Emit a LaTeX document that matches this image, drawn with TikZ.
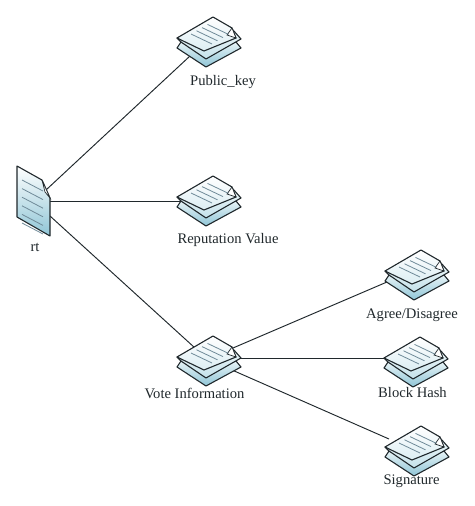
\documentclass[tikz,border=0pt]{standalone}
\usepackage{fontspec}
\setmainfont{Liberation Serif}
\definecolor{inkc}{HTML}{20282C}
\definecolor{pagetop}{HTML}{DCEEF3}
\definecolor{pagebot}{HTML}{8FC5D6}
\definecolor{ruled}{HTML}{6F8A98}
\tikzset{
  x=1pt,y=-1pt,
  link/.style={draw=inkc,line width=0.95pt},
  lab/.style={font=\fontsize{14.6}{16}\selectfont,text=inkc,inner sep=0pt},
  sheet/.style={draw=inkc,line width=1.1pt,line join=round,top color=pagetop,bottom color=pagebot},
  ruling/.style={draw=ruled,line width=0.8pt},
  stack/.pic={
    \path[sheet,top color=pagetop!70!white,bottom color=pagebot] (-28,4)--(-32,10)--(-3,29)--(32,10)--(27,4)--(-3,14)--cycle;
    \path[sheet,top color=pagetop!50!white,bottom color=pagetop!70!pagebot] (-32,0)--(-28,4)--(-3,21)--(32,1)--(24,-8)--(-3,5)--cycle;
    \path[sheet,top color=white,bottom color=pagetop] (-32,0)--(4,-21)--(23,-10)--(27,0)--(-5,13)--cycle;
    \path[draw=inkc,line width=0.7pt,fill=white] (23,-10)--(18,-3)--(27,0)--cycle;
    \foreach \i in {0,1,2,3}{
      \draw[ruling] (-18+\i*5.5,-4-\i*3.2)--(3+\i*5.5,6-\i*3.2);
    }
  },
}
\begin{document}
\begin{tikzpicture}
\useasboundingbox (0,0) rectangle (474,506);
\coordinate (rtA) at (46,190);
\coordinate (rtB) at (50,201.5);
\coordinate (rtC) at (50,216);
\coordinate (pk) at (209,38);
\coordinate (pkIn) at (190,56);
\coordinate (rep) at (209,197);
\coordinate (repIn) at (180,201.5);
\coordinate (vote) at (209,357);
\coordinate (voteIn) at (195,348);
\coordinate (voteA) at (233,348);
\coordinate (voteB) at (238,358.5);
\coordinate (voteC) at (232,370);
\coordinate (agree) at (417,271);
\coordinate (agreeIn) at (387,282);
\coordinate (hash) at (416,358);
\coordinate (hashIn) at (387,358.5);
\coordinate (sig) at (417,447);
\coordinate (sigIn) at (389,439);
\draw[link] (rtA) -- (pkIn);
\draw[link] (rtB) -- (repIn);
\draw[link] (rtC) -- (voteIn);
\draw[link] (voteA) -- (agreeIn);
\draw[link] (voteB) -- (hashIn);
\draw[link] (voteC) -- (sigIn);
\path[sheet,top color=white,bottom color=pagebot] (17,166)--(42,180)--(50,198)--(50,236)--(17,217)--cycle;
\path[draw=inkc,line width=0.7pt,fill=white] (42,180)--(45,192)--(50,198)--cycle;
\foreach \i in {0,1,2,3,4,5}{\draw[ruling] (22,\i*8.6+180)--(43,\i*8.6+191);}
\pic at (pk) {stack};
\pic at (rep) {stack};
\pic at (vote) {stack};
\pic at (agree) {stack};
\pic at (hash) {stack};
\pic at (sig) {stack};
\node[lab] (lrt) at (35,247) {rt};
\node[lab] (lpk) at (223,82) {Public\_key};
\node[lab] (lrep) at (228,240) {Reputation Value};
\node[lab] (lvote) at (194.5,393) {Vote Information};
\node[lab] (lagree) at (412,315) {Agree/Disagree};
\node[lab] (lhash) at (412.5,393) {Block Hash};
\node[lab] (lsig) at (411.5,481) {Signature};
\end{tikzpicture}
\end{document}
